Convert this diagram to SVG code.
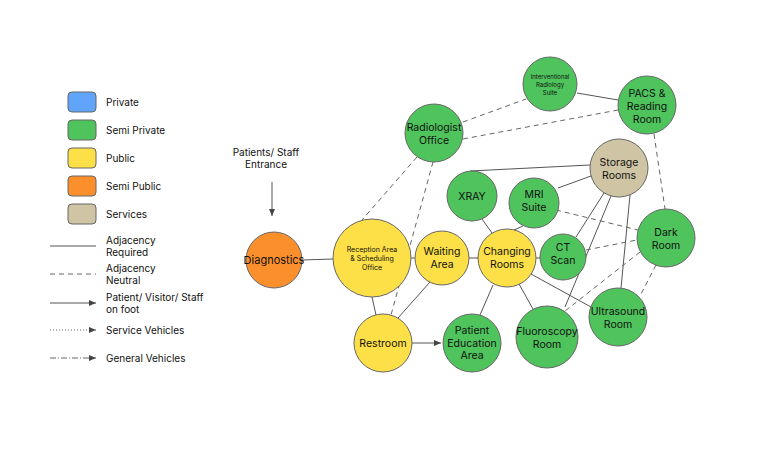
<svg xmlns="http://www.w3.org/2000/svg" width="768" height="465" viewBox="0 0 768 465">
<style>
text{font-family:Inter,"Liberation Sans",sans-serif;fill:#111;text-anchor:middle}
.n circle{stroke:#666;stroke-width:1}
.g{fill:#4fc35c}.y{fill:#fde047}.o{fill:#fb8f2c}.s{fill:#cfc4a3}
.l{stroke:#555;stroke-width:1;fill:none}
.d{stroke:#666;stroke-width:1;stroke-dasharray:5 4;fill:none}
.lg{font-size:10px;text-anchor:start}
</style>
<defs><marker id="a" markerWidth="8" markerHeight="8" refX="7" refY="4" orient="auto"><path d="M0,1 L7,4 L0,7z" fill="#444"/></marker></defs>
<rect width="768" height="465" fill="#fff"/>
<g id="legend">
<rect x="68" y="92" width="28" height="20" rx="4" fill="#60a5fa" stroke="#666"/><text class="lg" x="106" y="106">Private</text>
<rect x="68" y="120" width="28" height="20" rx="4" class="g" stroke="#666"/><text class="lg" x="106" y="134">Semi Private</text>
<rect x="68" y="148" width="28" height="20" rx="4" class="y" stroke="#666"/><text class="lg" x="106" y="162">Public</text>
<rect x="68" y="176" width="28" height="20" rx="4" class="o" stroke="#666"/><text class="lg" x="106" y="190">Semi Public</text>
<rect x="68" y="204" width="28" height="20" rx="4" class="s" stroke="#666"/><text class="lg" x="106" y="218">Services</text>
<line x1="50" y1="246" x2="96" y2="246" class="l"/><text class="lg" x="106" y="244">Adjacency</text><text class="lg" x="106" y="256">Required</text>
<line x1="50" y1="274" x2="96" y2="274" class="d"/><text class="lg" x="106" y="272">Adjacency</text><text class="lg" x="106" y="284">Neutral</text>
<line x1="50" y1="303" x2="96" y2="303" class="l" marker-end="url(#a)"/><text class="lg" x="106" y="301">Patient/ Visitor/ Staff</text><text class="lg" x="106" y="313">on foot</text>
<line x1="50" y1="330" x2="96" y2="330" stroke="#666" stroke-dasharray="1 2" marker-end="url(#a)"/><text class="lg" x="106" y="334">Service Vehicles</text>
<line x1="50" y1="358" x2="96" y2="358" stroke="#666" stroke-dasharray="6 2 1 2" marker-end="url(#a)"/><text class="lg" x="106" y="362">General Vehicles</text>
</g>
<g id="entrance"><text x="266" y="156" font-size="10">Patients/ Staff</text><text x="266" y="168" font-size="10">Entrance</text>
<line x1="272" y1="182" x2="272" y2="216" class="l" stroke-width="1.2" marker-end="url(#a)"/></g>
<g id="connectors">
<line x1="302" y1="260" x2="333" y2="259" class="l"/>
<line x1="411" y1="258" x2="415" y2="258" class="l"/>
<line x1="469" y1="258" x2="478" y2="258" class="l"/>
<line x1="536" y1="258" x2="540" y2="258" class="l"/>
<line x1="372" y1="297" x2="376" y2="315" class="l"/>
<line x1="430" y1="282" x2="398" y2="318" class="l"/>
<line x1="412" y1="343" x2="441" y2="343" class="l" stroke-width="1.4" marker-end="url(#a)"/>
<line x1="493" y1="285" x2="480" y2="315" class="l"/>
<line x1="519" y1="284" x2="533" y2="309" class="l"/>
<line x1="531" y1="274" x2="591" y2="307" class="l"/>
<line x1="482" y1="219" x2="492" y2="233" class="l"/>
<line x1="523" y1="226" x2="514" y2="230" class="l"/>
<line x1="590" y1="165" x2="470" y2="171" class="l"/>
<line x1="591" y1="176" x2="558" y2="188" class="l"/>
<line x1="604" y1="193" x2="576" y2="237" class="l"/>
<line x1="611" y1="196" x2="565" y2="307" class="l"/>
<line x1="630" y1="195" x2="621" y2="288" class="l"/>
<line x1="577" y1="93" x2="618" y2="100" class="l"/>
<line x1="463" y1="122" x2="526" y2="99" class="d"/>
<line x1="463" y1="139" x2="618" y2="110" class="d"/>
<line x1="417" y1="157" x2="362" y2="220" class="d"/>
<line x1="433" y1="162" x2="391" y2="315" class="d"/>
<line x1="654" y1="134" x2="665" y2="209" class="d"/>
<line x1="556" y1="210" x2="638" y2="230" class="d"/>
<line x1="586" y1="250" x2="637" y2="240" class="d"/>
<line x1="640" y1="252" x2="565" y2="311" class="d"/>
<line x1="656" y1="265" x2="640" y2="296" class="d"/>
</g>
<g class="n">
<g id="diagnostics"><circle cx="274" cy="260" r="28" class="o"/><text x="274" y="264" font-size="11">Diagnostics</text></g>
<g id="reception"><circle cx="372" cy="258" r="39" class="y"/><text x="372" y="252" font-size="7">Reception Area</text><text x="372" y="261" font-size="7">&amp; Scheduling</text><text x="372" y="270" font-size="7">Office</text></g>
<g id="waiting"><circle cx="442" cy="258" r="27" class="y"/><text x="442" y="255" font-size="10.5">Waiting</text><text x="442" y="268" font-size="10.5">Area</text></g>
<g id="changing"><circle cx="507" cy="258" r="29" class="y"/><text x="507" y="255" font-size="10.5">Changing</text><text x="507" y="268" font-size="10.5">Rooms</text></g>
<g id="ct"><circle cx="563" cy="257" r="23" class="g"/><text x="563" y="251" font-size="10.5">CT</text><text x="563" y="264" font-size="10.5">Scan</text></g>
<g id="dark"><circle cx="666" cy="238" r="29" class="g"/><text x="666" y="236" font-size="10.5">Dark</text><text x="666" y="249" font-size="10.5">Room</text></g>
<g id="ultrasound"><circle cx="618" cy="317" r="29" class="g"/><text x="618" y="315" font-size="10.5">Ultrasound</text><text x="618" y="328" font-size="10.5">Room</text></g>
<g id="fluoro"><circle cx="547" cy="337" r="31" class="g"/><text x="547" y="335" font-size="10.5">Fluoroscopy</text><text x="547" y="348" font-size="10.5">Room</text></g>
<g id="education"><circle cx="472" cy="343" r="29" class="g"/><text x="472" y="334" font-size="10.5">Patient</text><text x="472" y="347" font-size="10.5">Education</text><text x="472" y="359" font-size="10.5">Area</text></g>
<g id="restroom"><circle cx="383" cy="343" r="29" class="y"/><text x="383" y="347" font-size="10.5">Restroom</text></g>
<g id="xray"><circle cx="472" cy="196" r="25" class="g"/><text x="472" y="200" font-size="10.5">XRAY</text></g>
<g id="mri"><circle cx="534" cy="203" r="25" class="g"/><text x="534" y="198" font-size="10.5">MRI</text><text x="534" y="211" font-size="10.5">Suite</text></g>
<g id="storage"><circle cx="619" cy="168" r="29" class="s"/><text x="619" y="166" font-size="10.5">Storage</text><text x="619" y="179" font-size="10.5">Rooms</text></g>
<g id="radiologist"><circle cx="434" cy="133" r="29" class="g"/><text x="434" y="131" font-size="10.5">Radiologist</text><text x="434" y="144" font-size="10.5">Office</text></g>
<g id="interventional"><circle cx="550" cy="84" r="27" class="g"/><text x="550" y="79" font-size="6">Interventional</text><text x="550" y="87" font-size="6">Radiology</text><text x="550" y="95" font-size="6">Suite</text></g>
<g id="pacs"><circle cx="647" cy="105" r="29" class="g"/><text x="647" y="97" font-size="10.5">PACS &amp;</text><text x="647" y="110" font-size="10.5">Reading</text><text x="647" y="123" font-size="10.5">Room</text></g>
</g>
</svg>
